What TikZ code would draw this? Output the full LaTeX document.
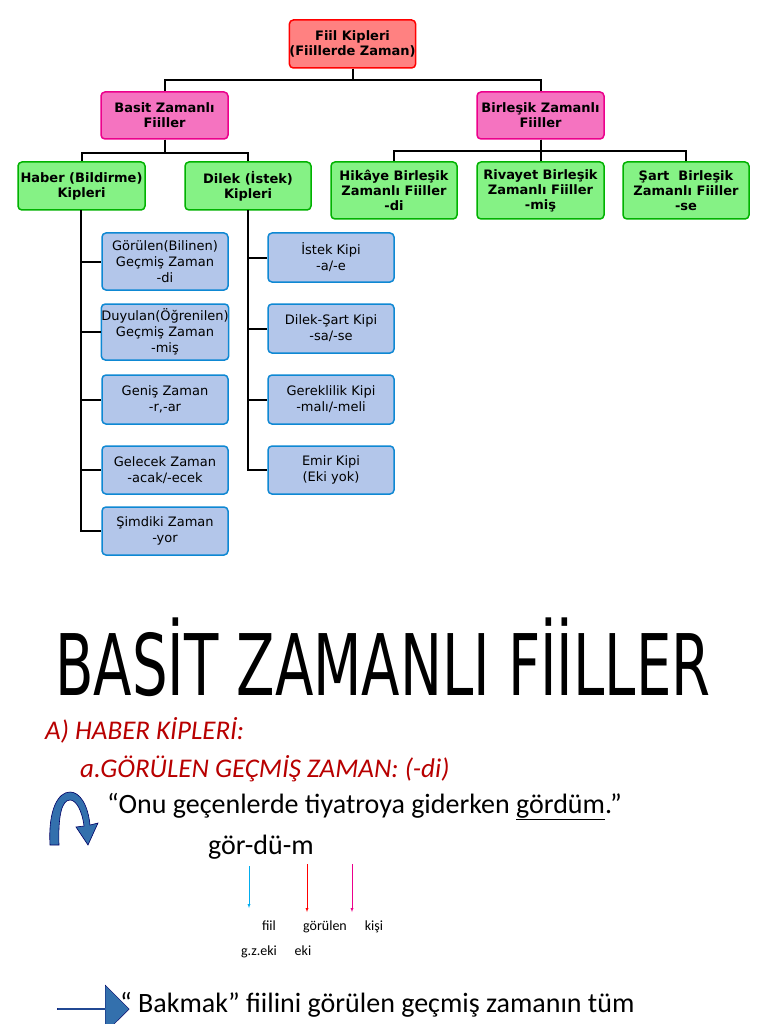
\documentclass[tikz,border=0pt]{standalone}
\usepackage{fontspec}
\setmainfont{DejaVu Sans}
\newfontfamily\carlito{Carlito}
\usetikzlibrary{shapes.arrows}
\begin{document}
\begin{tikzpicture}[x=1pt,y=-1pt,
 bx/.style={draw,line width=1.5pt,rounded corners=4pt,align=center,inner sep=0pt,font=\fontsize{13}{15}\selectfont\bfseries},
 rootb/.style={bx,fill=red!55!white!90,draw=red},
 pinkb/.style={bx,fill=magenta!55!white,draw=magenta},
 greenb/.style={bx,fill=green!45!white!95!black,draw=green!70!black},
 blueb/.style={bx,fill=cyan!50!blue!30!white,draw=cyan!70!blue,font=\fontsize{13}{16}\selectfont},
 ln/.style={line width=2pt,black},
 lab/.style={font=\carlito\fontsize{14}{16}\selectfont,anchor=base}]
\useasboundingbox (0,0) rectangle (768,1024);
\fill[white] (0,0) rectangle (768,1024);
\newcommand\bxat[6]{\node[#1,minimum width=#4-#2,minimum height=#5-#3] (#6) at ({(#2+#4)/2},{(#3+#5)/2})}
\bxat{rootb}{290}{20}{415}{68}{root} {Fiil Kipleri\\(Fiillerde Zaman)};
\bxat{pinkb}{101}{92}{228}{139}{basit} {Basit Zamanlı\\Fiiller};
\bxat{pinkb}{477}{92}{604}{139}{bir} {Birleşik Zamanlı\\Fiiller};
\bxat{greenb}{18}{162}{145}{210}{haber} {Haber (Bildirme)\\Kipleri};
\bxat{greenb}{185}{162}{311}{210}{dilek} {Dilek (İstek)\\Kipleri};
\bxat{greenb}{331}{162}{457}{219}{hik} {Hikâye Birleşik\\Zamanlı Fiiller\\-di};
\bxat{greenb}{477}{162}{604}{219}{riv} {Rivayet Birleşik\\Zamanlı Fiiller\\-miş};
\bxat{greenb}{623}{162}{749}{219}{sart} {Şart\ \ Birleşik\\Zamanlı Fiiller\\-se};
\bxat{blueb}{102}{233}{228}{290}{b1} {Görülen(Bilinen)\\Geçmiş Zaman\\-di};
\bxat{blueb}{102}{304}{228}{360}{b2} {Duyulan(Öğrenilen)\\Geçmiş Zaman\\-miş};
\bxat{blueb}{102}{375}{228}{424}{b3} {Geniş Zaman\\-r,-ar};
\bxat{blueb}{102}{446}{228}{494}{b4} {Gelecek Zaman\\-acak/-ecek};
\bxat{blueb}{102}{507}{228}{555}{b5} {Şimdiki Zaman\\-yor};
\bxat{blueb}{268}{233}{394}{282}{d1} {İstek Kipi\\-a/-e};
\bxat{blueb}{268}{304}{394}{353}{d2} {Dilek-Şart Kipi\\-sa/-se};
\bxat{blueb}{268}{375}{394}{424}{d3} {Gereklilik Kipi\\-malı/-meli};
\bxat{blueb}{268}{446}{394}{494}{d4} {Emir Kipi\\(Eki yok)};
% connectors
\draw[ln] (root.south) |- (basit.north |- 0,80) -- (basit.north);
\draw[ln] (root.south) |- (bir.north |- 0,80) -- (bir.north);
\draw[ln] (basit.south) -- ++(0,13) -| (haber.north);
\draw[ln] (basit.south) -- ++(0,13) -| (dilek.north);
\draw[ln] (bir.south) -- ++(0,11) -| (hik.north);
\draw[ln] (bir.south) -- ++(0,11) -| (sart.north);
\draw[ln] (bir.south) -- (riv.north);
\coordinate (lt) at (81,210); \coordinate (rt) at (248,210);
\draw[ln] (lt) |- (b5.west);
\foreach \b in {b1,b2,b3,b4} \draw[ln] (lt |- \b.west) -- (\b.west);
\draw[ln] (rt) |- (d4.west);
\foreach \b in {d1,d2,d3} \draw[ln] (rt |- \b.west) -- (\b.west);
% title
\node[font=\fontsize{72}{80}\selectfont,anchor=center,inner sep=0pt] (title) at (383,657) {\scalebox{0.78}[1.18]{BASİT ZAMANLI FİİLLER}};
\node[font=\carlito\itshape\fontsize{27}{30}\selectfont,text=red!60!black!70!red,anchor=base west,inner sep=0pt] (a) at (45,739) {A) HABER KİPLERİ:};
\node[font=\carlito\itshape\fontsize{27}{30}\selectfont,text=red!60!black!70!red,anchor=base west,inner sep=0pt] (aa) at (80,777) {a.GÖRÜLEN GEÇMİŞ ZAMAN: (-di)};
\node[font=\carlito\fontsize{28}{30}\selectfont,anchor=base west,inner sep=0pt] (q) at (107,813) {“Onu geçenlerde tiyatroya giderken \underline{gördüm}.”};
\node[font=\carlito\fontsize{28}{30}\selectfont,anchor=base west,inner sep=0pt] (g) at (208,854) {gör-dü-m};
\coordinate (c1) at (249,866); \coordinate (c1e) at (249,908);
\coordinate (c2) at (307,864); \coordinate (c2e) at (307,912);
\coordinate (c3) at (352,864); \coordinate (c3e) at (352,912);
\draw[cyan,-latex] (c1) -- (c1e);
\draw[red,-latex] (c2) -- (c2e);
\draw[magenta,-latex] (c3) -- (c3e);
\node[lab] (l1) at (269,930) {fiil};
\node[lab] (l2) at (325,930) {görülen};
\node[lab] (l3) at (374,930) {kişi};
\node[lab] (l4) at (259,955) {g.z.eki};
\node[lab] (l5) at (303,955) {eki};
% curved arrow
\fill[blue!50!cyan!60!black!80, draw=blue!40!black, line width=0.6pt]
 (50,845) .. controls (48,810) and (58,792) .. (70,792)
 .. controls (80,792) and (88,805) .. (90,825) -- (98,823) -- (88,845) -- (76,827) -- (84,826)
 .. controls (82,810) and (76,800) .. (70,800)
 .. controls (62,800) and (58,815) .. (59,845) -- cycle;
\node[single arrow,draw=blue!40!black,fill=blue!50!cyan!60!black!80,minimum height=72pt,minimum width=48pt,single arrow head extend=6pt,inner sep=0pt,anchor=west] (ba) at (57,1009) {};
\node[font=\carlito\fontsize{28}{30}\selectfont,anchor=base west,inner sep=0pt] (bq) at (120,1012) {“ Bakmak” fiilini görülen geçmiş zamanın tüm};
\end{tikzpicture}
\end{document}
